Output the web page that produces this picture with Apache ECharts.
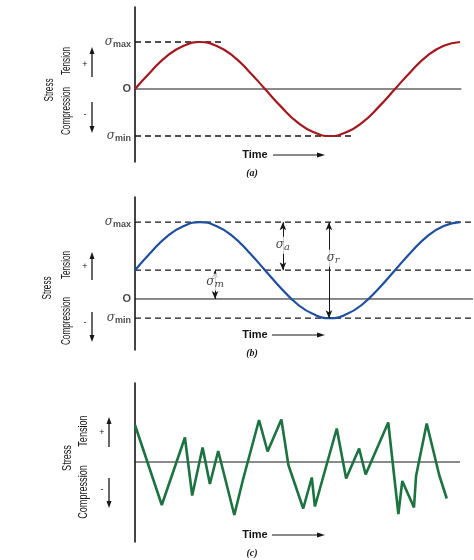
<!DOCTYPE html>
<html><head><meta charset="utf-8">
<script src="https://cdn.jsdelivr.net/npm/echarts/dist/echarts.min.js"></script>
<style>html,body{margin:0;padding:0;background:#fff}#c{width:474px;height:560px}</style>
</head><body><div id="c"></div>
<script>
// ---- data ----
const sineTime = [0, 0.0625, 0.125, 0.1875, 0.25, 0.3125, 0.375, 0.4375, 0.5, 0.5625, 0.625, 0.6875, 0.75, 0.8125, 0.875, 0.9375, 1, 1.0625, 1.125, 1.1875, 1.25];
const stressA = [0, 38, 71, 92, 100, 92, 71, 38, 0, -38, -71, -92, -100, -92, -71, -38, 0, 38, 71, 92, 100];
const stressB = [60, 98, 131, 152, 160, 152, 131, 98, 60, 22, -11, -32, -40, -32, -11, 22, 60, 98, 131, 152, 160];
const randomTime = [0, 0.103, 0.192, 0.220, 0.260, 0.288, 0.320, 0.382, 0.415, 0.477, 0.510, 0.563, 0.590, 0.647, 0.680, 0.692, 0.776, 0.812, 0.862, 0.887, 0.974, 1.013, 1.028, 1.073, 1.081, 1.122, 1.170, 1.199];
const randomStress = [74, -86, 49, -67, 29, -44, 22, -106, -36, 84, 21, 85, -6, -93, -31, -89, 67, -33, 27, -25, 79, -104, -38, -91, -28, 77, -26, -73];
const levelNamesA = ['σmax', 'O', 'σmin'];
const levelValuesA = [100, 0, -100];
const levelNamesB = ['σmax', 'O', 'σmin'];
const levelValuesB = [160, 0, -40];
const meanB = 60;
const dashEndA = [0.338, 0.835];
const lineEnd = [1.255, 1.3, 1.25];
const rangeNames = ['σa', 'σr', 'σm'];

// ---- styles ----
const INK = '#161616';
const DASH = [6, 4];
const serif = 'DejaVu Serif';
const sans = 'Liberation Sans';

const rich = {
  s: { fontFamily: serif, fontStyle: 'italic', fontSize: 12, color: INK },
  sub: { fontFamily: sans, fontWeight: 'bold', fontSize: 9, color: INK, padding: [5, 0, 0, 0] },
  isub: { fontFamily: serif, fontStyle: 'italic', fontSize: 10, color: INK, padding: [5, 0, 0, 0] },
  o: { fontFamily: sans, fontWeight: 'bold', fontSize: 11, color: INK }
};
function richName(n) {
  if (n === 'O') return '{o|O}';
  const sub = n.slice(1);
  return sub.length > 1 ? '{s|σ}{sub|' + sub + '}' : '{s|σ}{isub|' + sub + '}';
}
const zip = (xs, ys) => xs.map((x, i) => [x, ys[i]]);

function lineS(g, data, color, width, type, extra) {
  return Object.assign({
    type: 'line', xAxisIndex: g, yAxisIndex: g, data: data, showSymbol: false, symbol: 'none',
    lineStyle: { color: color, width: width, type: type || 'solid' }, silent: true, z: 2
  }, extra || {});
}
function levelLabels(g, names, values) {
  return {
    type: 'scatter', xAxisIndex: g, yAxisIndex: g, symbolSize: 0, silent: true, z: 5,
    data: values.map((v, i) => ({ value: [0, v], name: names[i] })),
    label: { show: true, position: 'left', distance: 4, formatter: p => richName(p.name), rich: rich }
  };
}

const grids = [
  { left: 135, width: 338, top: 7, height: 155 },
  { left: 135, width: 338, top: 197, height: 153 },
  { left: 135, width: 338, top: 383, height: 159 }
];
const yRanges = [[-155.3, 174.5], [-106.3, 212.5], [-160, 158]];

const series = [
  // (a)
  lineS(0, [[0, levelValuesA[0]], [dashEndA[0], levelValuesA[0]]], INK, 1.3, DASH),
  lineS(0, [[0, levelValuesA[2]], [dashEndA[1], levelValuesA[2]]], INK, 1.3, DASH),
  lineS(0, [[0, 0], [lineEnd[0], 0]], INK, 1),
  lineS(0, zip(sineTime, stressA), '#a3191f', 2.2, 'solid', { smooth: 0.5, z: 3 }),
  levelLabels(0, levelNamesA, levelValuesA),
  // (b)
  lineS(1, [[0, levelValuesB[0]], [lineEnd[1], levelValuesB[0]]], INK, 1.3, DASH),
  lineS(1, [[0, meanB], [lineEnd[1], meanB]], INK, 1.3, DASH),
  lineS(1, [[0, levelValuesB[2]], [lineEnd[1], levelValuesB[2]]], INK, 1.3, DASH),
  lineS(1, [[0, 0], [lineEnd[1], 0]], INK, 1, 'solid', {
    markLine: {
      silent: true, symbol: ['arrow', 'arrow'], symbolSize: [5, 8], animation: false,
      label: { show: false }, lineStyle: { color: INK, width: 1, type: 'solid' },
      data: [
        [{ coord: [0.569, levelValuesB[0]] }, { coord: [0.569, meanB] }],
        [{ coord: [0.746, levelValuesB[0]] }, { coord: [0.746, levelValuesB[2]] }],
        [{ coord: [0.308, meanB] }, { coord: [0.308, 0] }]
      ]
    }
  }),
  lineS(1, zip(sineTime, stressB), '#1f4f9f', 2.2, 'solid', { smooth: 0.5, z: 3 }),
  levelLabels(1, levelNamesB, levelValuesB),
  {
    type: 'scatter', xAxisIndex: 1, yAxisIndex: 1, symbolSize: 0, silent: true, z: 6,
    data: [
      { value: [0.569, 112], name: rangeNames[0] },
      { value: [0.762, 85], name: rangeNames[1] },
      { value: [0.308, 35], name: rangeNames[2] }
    ],
    label: { show: true, position: 'inside', formatter: p => richName(p.name), rich: rich, backgroundColor: '#fff', padding: [1, 1, 1, 1] }
  },
  // (c)
  lineS(2, [[0, 0], [lineEnd[2], 0]], INK, 1),
  lineS(2, zip(randomTime, randomStress), '#1c7240', 2.6, 'solid', { z: 3 })
];

// ---- side annotations ----
function txt(x, y, text, font, rot, sx) {
  return { type: 'text', x: x, y: y, rotation: rot || 0, scaleX: sx || 1, silent: true,
    style: { text: text, font: font, fill: INK, align: 'center', verticalAlign: 'middle', textAlign: 'center', textVerticalAlign: 'middle' } };
}
function vArrow(x, y1, y2) {
  const d = y2 > y1 ? 1 : -1;
  return [
    { type: 'line', silent: true, shape: { x1: x, y1: y1, x2: x, y2: y2 - d * 4 }, style: { stroke: INK, lineWidth: 1.3 } },
    { type: 'polygon', silent: true, shape: { points: [[x, y2], [x - 2.5, y2 - d * 7], [x + 2.5, y2 - d * 7]] }, style: { fill: INK } }
  ];
}
function hArrow(x1, x2, y) {
  return [
    { type: 'line', silent: true, shape: { x1: x1, y1: y, x2: x2 - 4, y2: y }, style: { stroke: INK, lineWidth: 1.2 } },
    { type: 'polygon', silent: true, shape: { points: [[x2, y], [x2 - 8, y - 2.5], [x2 - 8, y + 2.5]] }, style: { fill: INK } }
  ];
}
const panels = [
  { stress: [50, 90], ten: [67, 61], comp: [67, 111], plus: [85, 65], minus: [85, 115], up: [92, 77, 47], down: [92, 102, 133], time: [255, 155], ta: [273, 325, 155], cap: [252, 173, '(a)'], fs: 12, sx: 0.68 },
  { stress: [48, 288], ten: [67, 265], comp: [67, 321], plus: [85, 267], minus: [85, 323], up: [92, 280, 252], down: [92, 312, 342], time: [255, 335], ta: [272, 325, 335], cap: [252, 353, '(b)'], fs: 12, sx: 0.68 },
  { stress: [67, 458], ten: [83, 431], comp: [83, 492], plus: [102, 433], minus: [102, 490], up: [109, 447, 417], down: [109, 478, 508], time: [255, 535], ta: [272, 325, 535], cap: [252, 553, '(c)'], fs: 13, sx: 0.7 }
];
const graphic = [];
panels.forEach(p => {
  const f = p.fs + 'px ' + sans;
  graphic.push(txt(p.stress[0], p.stress[1], 'Stress', f, Math.PI / 2, p.sx));
  graphic.push(txt(p.ten[0], p.ten[1], 'Tension', f, Math.PI / 2, p.sx));
  graphic.push(txt(p.comp[0], p.comp[1], 'Compression', f, Math.PI / 2, p.sx));
  graphic.push(txt(p.plus[0], p.plus[1], '+', '9px ' + sans));
  graphic.push(txt(p.minus[0], p.minus[1], '-', '9px ' + sans));
  graphic.push(...vArrow(p.up[0], p.up[1], p.up[2]));
  graphic.push(...vArrow(p.down[0], p.down[1], p.down[2]));
  graphic.push(txt(p.time[0], p.time[1], 'Time', 'bold 11px ' + sans));
  graphic.push(...hArrow(p.ta[0], p.ta[1], p.ta[2]));
  graphic.push(txt(p.cap[0], p.cap[1], p.cap[2], 'italic bold 10px "Liberation Serif"'));
});

const option = {
  animation: false,
  backgroundColor: '#fff',
  grid: grids,
  xAxis: grids.map((g, i) => ({ type: 'value', gridIndex: i, min: 0, max: 1.3, show: false })),
  yAxis: grids.map((g, i) => ({
    type: 'value', gridIndex: i, min: yRanges[i][0], max: yRanges[i][1],
    axisLine: { show: true, onZero: false, lineStyle: { color: INK, width: 1.6 } },
    axisTick: { show: false }, axisLabel: { show: false }, splitLine: { show: false }
  })),
  series: series,
  graphic: graphic
};
const chart = echarts.init(document.getElementById('c'));
chart.setOption(option);
</script>
</body></html>
